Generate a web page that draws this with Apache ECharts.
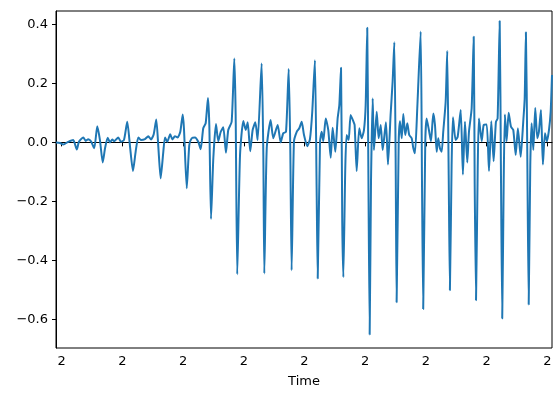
<!DOCTYPE html>
<html>
<head>
<meta charset="utf-8">
<script src="https://cdn.jsdelivr.net/npm/echarts@6/dist/echarts.min.js"></script>
<style>html,body{margin:0;padding:0;background:#fff}#c{width:559px;height:395px}</style>
</head>
<body>
<div id="c"></div>
<script>
// Time in milliseconds
const times = [1995.3,1998.6,2001.3,2005.4,2009.5,2012.4,2014.2,2017.8,2019.8,2021.9,2024.1,2026.8,2029.3,2031.5,2033.8,2035.7,2037.9,2039.8,2041.7,2043.3,2046.6,2048.8,2051.3,2054.0,2056.3,2058.7,2060.9,2063.1,2065.3,2068.6,2071.3,2073.6,2075.8,2077.9,2079.6,2081.5,2083.7,2085.1,2087.0,2089.4,2091.1,2093.3,2095.5,2097.7,2099.7,2100.7,2103.0,2105.1,2107.1,2109.8,2112.5,2114.5,2116.6,2118.6,2120.5,2121.6,2123.0,2124.9,2127.1,2129.0,2131.0,2133.1,2135.3,2137.2,2140.0,2142.2,2143.3,2144.6,2146.9,2149.6,2151.6,2153.2,2155.3,2157.3,2159.5,2161.4,2164.7,2166.1,2166.9,2168.9,2172.1,2174.3,2177.9,2180.4,2182.5,2184.8,2187.0,2188.3,2189.4,2191.3,2193.6,2195.7,2197.7,2199.6,2202.3,2204.5,2206.4,2208.6,2210.0,2210.9,2212.8,2214.2,2215.5,2217.5,2219.6,2221.6,2223.2,2225.4,2227.3,2228.7,2230.1,2231.1,2232.0,2233.6,2234.7,2236.4,2238.0,2240.2,2241.3,2243.0,2245.1,2247.1,2249.0,2250.4,2251.7,2252.5,2253.7,2254.8,2256.2,2257.2,2259.5,2261.1,2262.8,2264.4,2267.1,2268.8,2271.0,2272.6,2274.0,2275.1,2275.9,2277.6,2278.7,2280.1,2281.4,2283.0,2284.7,2286.3,2288.3,2289.6,2291.0,2292.9,2295.7,2296.8,2297.8,2299.5,2300.6,2302.5,2304.2,2306.1,2307.5,2308.9,2310.2,2311.6,2313.0,2314.3,2316.3,2317.6,2318.8,2319.8,2321.2,2322.3,2324.5,2326.2,2328.7,2330.5,2332.2,2334.1,2335.5,2337.7,2339.4,2340.2,2341.3,2342.7,2343.7,2346.0,2347.6,2350.1,2352.0,2353.9,2355.8,2357.7,2359.1,2360.8,2361.8,2362.9,2364.1,2365.1,2366.5,2368.2,2370.1,2372.0,2374.0,2375.8,2378.1,2380.2,2381.4,2382.4,2383.5,2384.7,2386.0,2387.1,2388.5,2390.1,2391.8,2393.1,2394.8,2396.4,2398.1,2399.7,2401.4,2402.8,2403.9];
const values = [0.000,-0.002,-0.007,0.002,0.008,-0.024,0.002,0.017,0.005,0.011,0.004,-0.020,0.055,0.008,-0.068,-0.020,0.016,0.000,0.010,0.004,0.017,0.002,0.008,0.070,-0.015,-0.097,-0.032,0.017,0.008,0.011,0.021,0.010,0.028,0.078,-0.015,-0.122,-0.032,0.017,0.002,0.028,0.010,0.021,0.017,0.036,0.095,0.048,-0.156,-0.009,0.014,0.017,0.002,-0.023,0.048,0.065,0.151,0.059,-0.260,-0.054,0.062,0.004,0.036,0.051,-0.035,0.042,0.070,0.285,0.093,-0.448,-0.043,0.073,0.042,0.068,-0.030,0.042,0.068,0.008,0.268,-0.043,-0.445,-0.020,0.076,0.014,0.059,0.000,0.031,0.036,0.249,-0.020,-0.434,0.002,0.036,0.048,0.070,0.025,-0.013,0.011,0.104,0.279,-0.156,-0.462,0.002,0.036,0.004,0.081,0.042,-0.052,0.050,-0.032,0.081,0.127,0.253,-0.270,-0.458,-0.088,0.025,0.008,0.093,0.072,0.059,-0.097,0.048,0.014,0.042,0.127,0.389,-0.020,-0.652,-0.134,0.149,-0.026,0.104,0.014,0.059,-0.026,0.068,-0.075,0.098,0.206,0.340,-0.054,-0.543,0.002,0.072,0.014,0.096,0.025,0.065,0.025,0.014,-0.018,-0.037,0.115,0.376,-0.134,-0.566,0.002,0.081,0.042,0.004,0.098,0.059,-0.032,0.014,-0.020,-0.032,0.036,0.138,0.310,-0.111,-0.502,-0.077,0.085,0.008,0.019,0.110,-0.109,0.070,-0.068,0.036,0.115,0.359,-0.134,-0.536,-0.088,0.081,0.004,0.059,0.061,-0.097,0.072,-0.064,0.070,0.081,0.412,-0.077,-0.598,-0.134,0.095,0.004,0.101,0.053,0.042,-0.043,0.048,-0.049,0.070,0.149,0.374,-0.020,-0.550,-0.077,0.065,-0.026,0.117,0.014,0.036,0.110,-0.075,0.031,0.004,0.042,0.104,0.229];
const xTicks = [2000,2050,2100,2150,2200,2250,2300,2350,2400];
const yTicks = [-0.6,-0.4,-0.2,0.0,0.2,0.4];
const xName = 'Time';

const data = times.map((t,i)=>[t, values[i]]);
const chart = echarts.init(document.getElementById('c'), null, {renderer:'canvas'});
const font = 'DejaVu Sans';
chart.setOption({
  animation:false,
  backgroundColor:'#ffffff',
  grid:{left:56,right:7,top:11,bottom:47,show:true,borderColor:'#000',borderWidth:1,backgroundColor:'transparent'},
  xAxis:{
    type:'value', min:1995.3, max:2403.9,
    name:xName, nameLocation:'middle', nameGap:27,
    nameTextStyle:{color:'#000',fontFamily:font,fontSize:13},
    axisLine:{show:true,lineStyle:{color:'#000',width:1}},
    axisTick:{show:true,length:4,lineStyle:{color:'#000',width:1},customValues:xTicks},
    axisLabel:{color:'#000',fontFamily:font,fontSize:13,margin:7,customValues:xTicks,interval:0,hideOverlap:false,
      showMinLabel:true,showMaxLabel:true,
      formatter:v=>String(Math.floor(v/1000))},
    splitLine:{show:false}
  },
  yAxis:{
    type:'value', min:-0.698, max:0.446,
    axisLine:{show:true,lineStyle:{color:'#000',width:1}},
    axisTick:{show:true,length:4,lineStyle:{color:'#000',width:1},customValues:yTicks},
    axisLabel:{color:'#000',fontFamily:font,fontSize:13,margin:8,customValues:yTicks,interval:0,
      formatter:v=>v.toFixed(1).replace('-','\u2212')},
    splitLine:{show:false}
  },
  series:[{
    type:'line', data:data, showSymbol:false, symbol:'none', smooth:0.2,
    lineStyle:{color:'#1f77b4',width:2}, itemStyle:{color:'#1f77b4'}
  }]
});
</script>
</body>
</html>
